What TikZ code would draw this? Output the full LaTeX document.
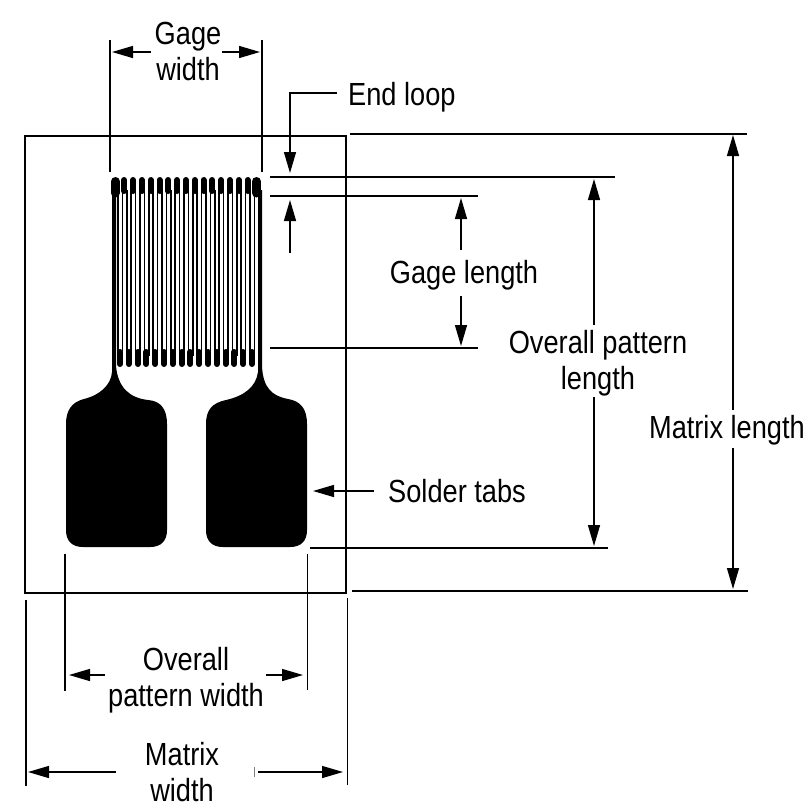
\documentclass[tikz,border=0pt]{standalone}
\usepackage{fontspec}
\setmainfont[FakeStretch=0.85]{Liberation Sans}
\usetikzlibrary{arrows.meta}
\tikzset{
  dimline/.style={line width=1.15pt},
  dimarrow/.style={line width=1.4pt, -{Triangle[length=21pt,width=12pt]}},
  dimlabel/.style={inner sep=0pt, align=center, font=\fontsize{32}{36}\selectfont},
  foil/.style={fill=black, draw=none}
}
\begin{document}
\begin{tikzpicture}[x=1pt, y=-1pt]
        \useasboundingbox (0, 0) rectangle (806, 809);
        % matrix outline
        \node[draw, line width=1.15pt, inner sep=0pt, minimum width=321pt, minimum height=457pt] (matrix) at (185.5, 364.5) {};
        % grid lines and end loops
        \foreach \k in {0, ..., 33} {
          \draw[line width=1.7pt] ({113.6 + 4.4*\k}, 190) -- ({113.6 + 4.4*\k}, 356);
        }
        \foreach \k in {1, ..., 15} {
          \draw[line width=6pt, line cap=round] ({115.5 + 8.8*\k}, 180) -- ({115.5 + 8.8*\k}, 191);
        }
        \foreach \x in {115.3, 256.5} {
          \draw[line width=9pt, line cap=round] (\x, 181.5) -- (\x, 193);
        }
        \foreach \k in {0, ..., 15} {
          \draw[line width=6pt, line cap=round] ({120 + 8.8*\k}, 352) -- ({120 + 8.8*\k}, 364);
        }
        % solder tabs
        \fill[foil] (112, 190) -- (112, 372) .. controls (111, 385) and (100, 395) .. (84, 399)
          .. controls (72, 402) and (66, 410) .. (66, 424) -- (66, 530)
          .. controls (66, 541) and (72, 547) .. (83, 547) -- (150, 547)
          .. controls (161, 547) and (167, 541) .. (167, 530) -- (167, 424)
          .. controls (167, 408) and (160, 401) .. (148, 400)
          .. controls (130, 398) and (118, 388) .. (116, 366) -- (116, 190) -- cycle;
        \fill[foil] (258, 190) -- (258, 372) .. controls (256, 387) and (244, 396) .. (226, 400)
          .. controls (212, 403) and (206, 410) .. (206, 424) -- (206, 530)
          .. controls (206, 541) and (212, 547) .. (223, 547) -- (290, 547)
          .. controls (301, 547) and (307, 541) .. (307, 530) -- (307, 424)
          .. controls (307, 408) and (300, 401) .. (288, 399)
          .. controls (272, 396) and (263, 388) .. (262, 366) -- (262, 190) -- cycle;
        % labels
        \node[dimlabel] (gagewidth) at (188, 51) {Gage\\width};
        \node[dimlabel, anchor=west] (endloop) at (348, 97) {End loop};
        \node[dimlabel] (gagelength) at (464, 275) {Gage length};
        \node[dimlabel] (patternlength) at (598, 363) {Overall pattern\\length};
        \node[dimlabel, anchor=east] (matrixlength) at (805, 430) {Matrix length};
        \node[dimlabel, anchor=west] (soldertabs) at (388, 491) {Solder tabs};
        \node[dimlabel] (patternwidth) at (186, 680) {Overall\\pattern width};
        \node[dimlabel] (matrixwidth) at (182, 772) {Matrix\\width};
        % gage width
        \coordinate (gw1a) at (110, 40); \coordinate (gw1b) at (110, 172);
        \coordinate (gw2a) at (262, 40); \coordinate (gw2b) at (262, 172);
        \coordinate (gw1tail) at (151, 52); \coordinate (gw1tip) at (112, 52);
        \coordinate (gw2tail) at (222, 52); \coordinate (gw2tip) at (260, 52);
        \draw[dimline] (gw1a) -- (gw1b);
        \draw[dimline] (gw2a) -- (gw2b);
        \draw[dimarrow] (gw1tail) -- (gw1tip);
        \draw[dimarrow] (gw2tail) -- (gw2tip);
        % end loop
        \coordinate (el0) at (337, 93); \coordinate (el1) at (290, 93); \coordinate (el2) at (290, 173);
        \coordinate (el3) at (290, 253); \coordinate (el4) at (290, 200);
        \draw[dimarrow] (el0) -- (el1) -- (el2);
        \draw[dimarrow] (el3) -- (el4);
        % horizontal extension lines
        \coordinate (top1) at (350, 134); \coordinate (top2) at (747, 134);
        \coordinate (bot1) at (352, 591); \coordinate (bot2) at (748, 591);
        \coordinate (ol1) at (270, 177); \coordinate (ol2) at (615, 177);
        \coordinate (gl1) at (270, 196); \coordinate (gl2) at (478, 196);
        \coordinate (gl3) at (270, 348); \coordinate (gl4) at (478, 348);
        \coordinate (ol3) at (310, 548); \coordinate (ol4) at (608, 548);
        \foreach \a/\b in {top1/top2, bot1/bot2, ol1/ol2, gl1/gl2, gl3/gl4, ol3/ol4} {
          \draw[dimline] (\a) -- (\b);
        }
        % gage length
        \coordinate (gla) at (461, 250); \coordinate (glb) at (461, 198);
        \coordinate (glc) at (461, 296); \coordinate (gld) at (461, 346);
        \draw[dimarrow] (gla) -- (glb);
        \draw[dimarrow] (glc) -- (gld);
        % overall pattern length
        \coordinate (opa) at (594, 325); \coordinate (opb) at (594, 179);
        \coordinate (opc) at (594, 397); \coordinate (opd) at (594, 546);
        \draw[dimarrow] (opa) -- (opb);
        \draw[dimarrow] (opc) -- (opd);
        % matrix length
        \coordinate (mla) at (733, 410); \coordinate (mlb) at (733, 135);
        \coordinate (mlc) at (733, 448); \coordinate (mld) at (733, 589);
        \draw[dimarrow] (mla) -- (mlb);
        \draw[dimarrow] (mlc) -- (mld);
        % solder tabs
        \coordinate (sta) at (374, 491); \coordinate (stb) at (313, 491);
        \draw[dimarrow] (sta) -- (stb);
        % overall pattern width
        \coordinate (pw1a) at (65, 554); \coordinate (pw1b) at (65, 691);
        \coordinate (pw2a) at (307.5, 554); \coordinate (pw2b) at (307.5, 690);
        \coordinate (pw1tail) at (105, 675); \coordinate (pw1tip) at (69, 675);
        \coordinate (pw2tail) at (266, 675); \coordinate (pw2tip) at (303, 675);
        \draw[dimline] (pw1a) -- (pw1b);
        \draw[dimline] (pw2a) -- (pw2b);
        \draw[dimarrow] (pw1tail) -- (pw1tip);
        \draw[dimarrow] (pw2tail) -- (pw2tip);
        % matrix width
        \coordinate (mw1a) at (26, 600); \coordinate (mw1b) at (26, 786);
        \coordinate (mw2a) at (347.5, 598); \coordinate (mw2b) at (347.5, 785);
        \coordinate (mw1tail) at (116, 772); \coordinate (mw1tip) at (28, 772);
        \coordinate (mw2tail) at (258, 772); \coordinate (mw2tip) at (343, 772);
        \coordinate (tick1) at (254, 767); \coordinate (tick2) at (254, 777);
        \draw[dimline] (mw1a) -- (mw1b);
        \draw[dimline] (mw2a) -- (mw2b);
        \draw[dimarrow] (mw1tail) -- (mw1tip);
        \draw[dimarrow] (mw2tail) -- (mw2tip);
        \draw[line width=0.5pt, gray] (tick1) -- (tick2);
     \end{tikzpicture}
\end{document}
